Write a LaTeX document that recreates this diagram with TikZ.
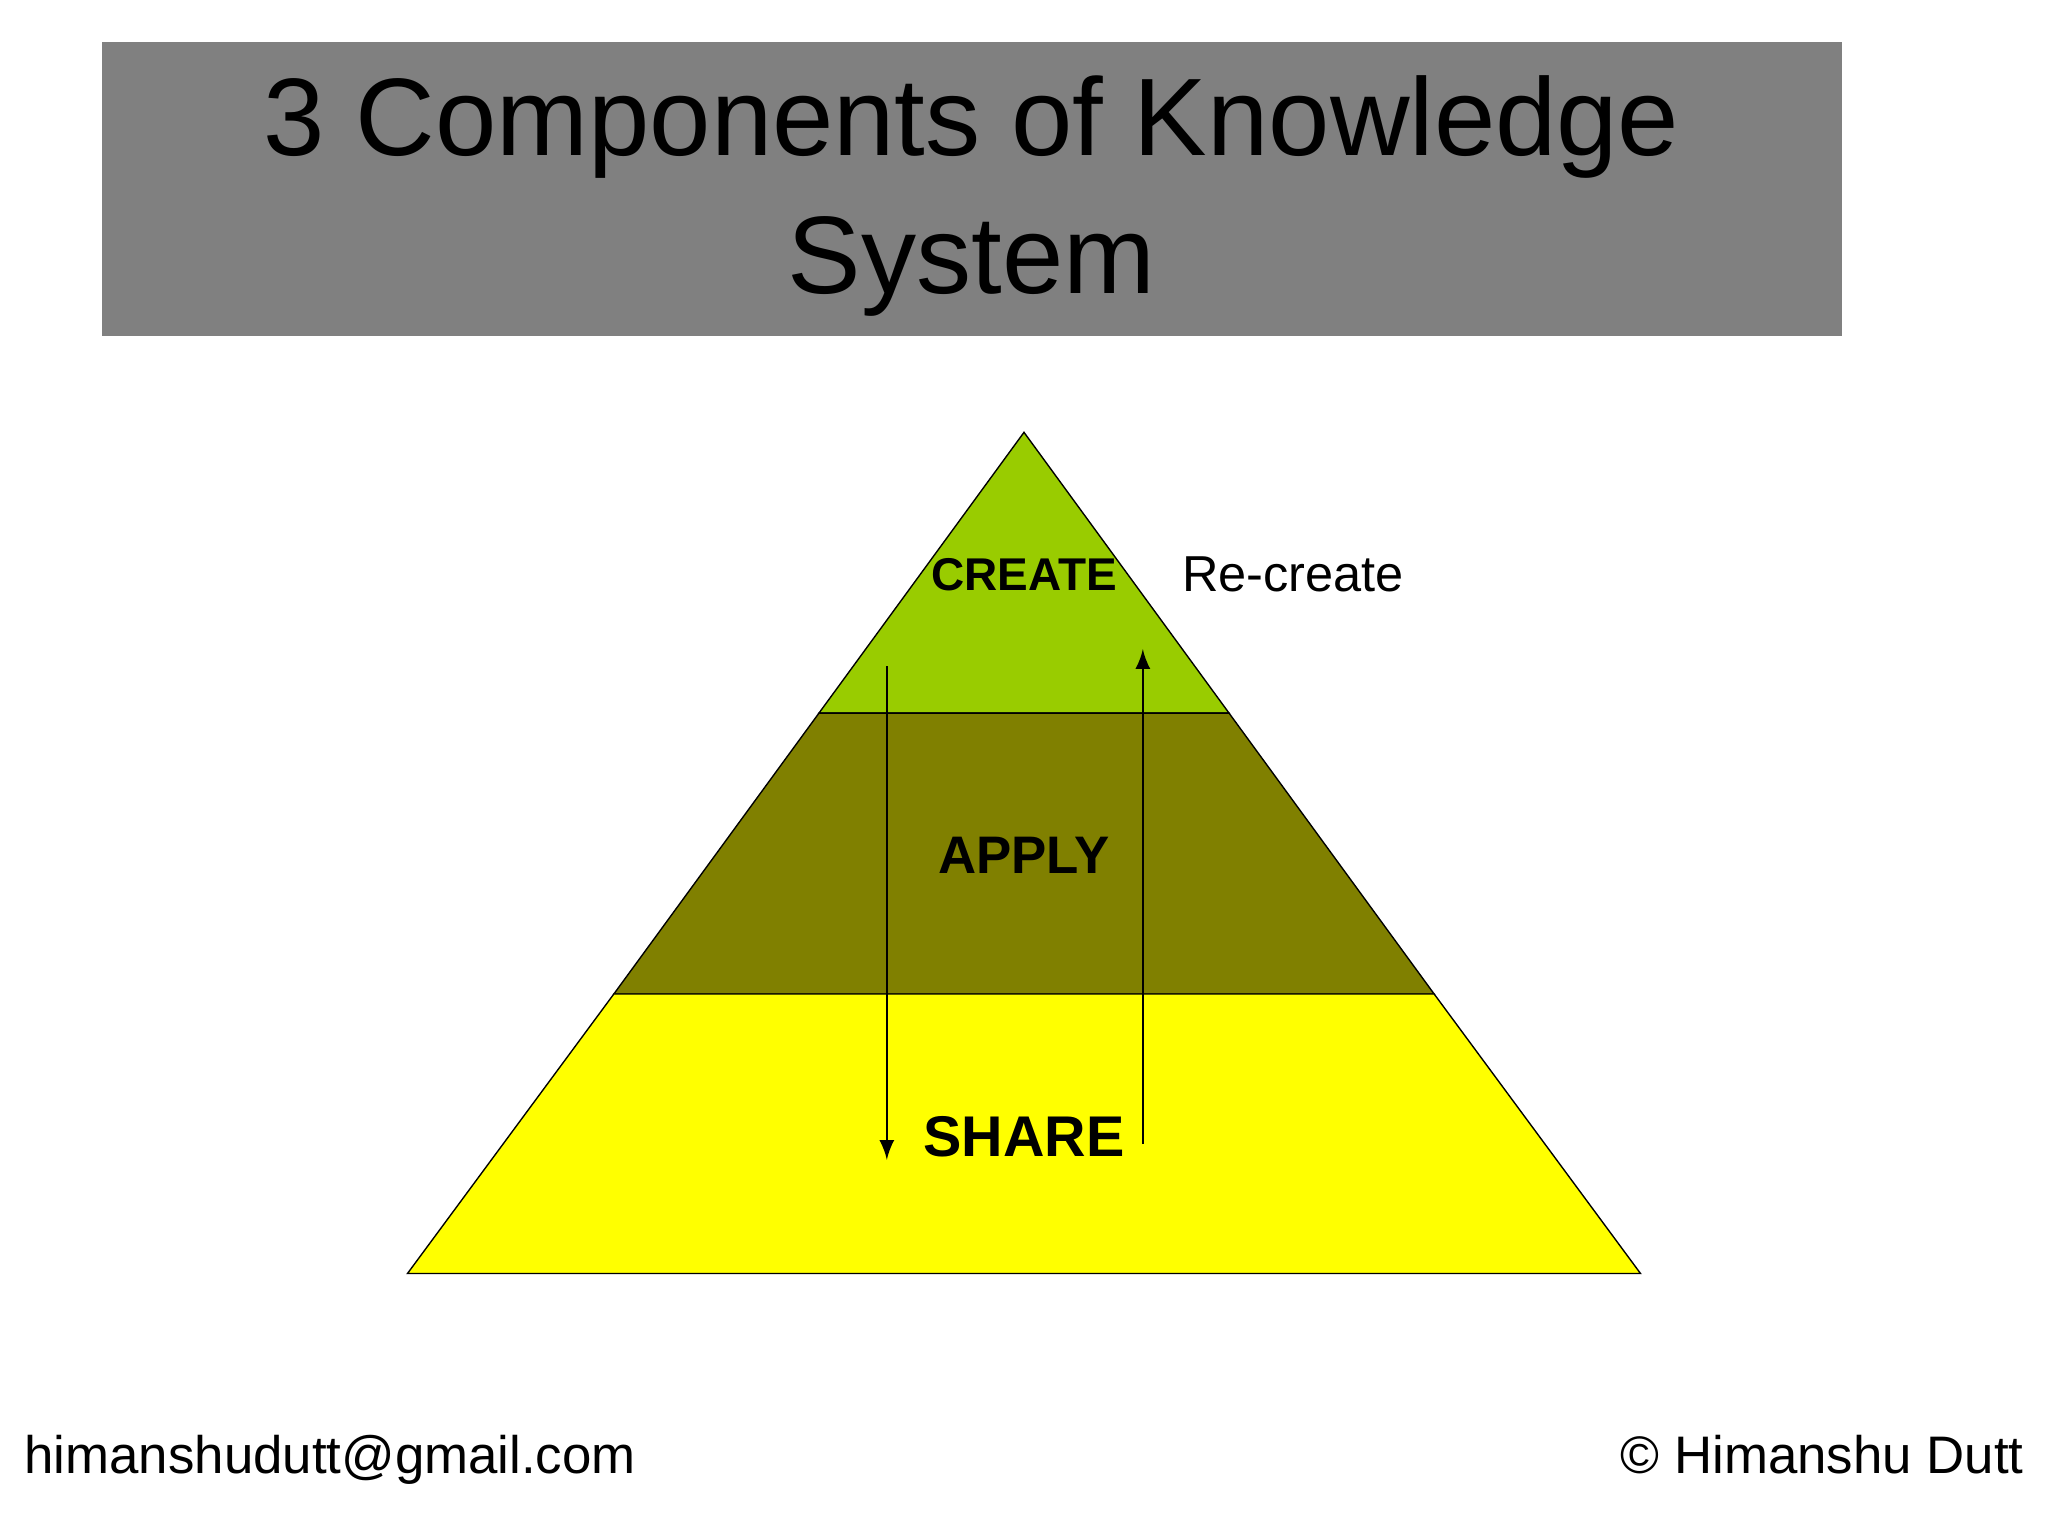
\documentclass[tikz,border=0pt]{standalone}
\usepackage{fontspec}
\setmainfont{Liberation Sans}
\definecolor{topg}{HTML}{99CC00}
\definecolor{midg}{HTML}{808000}
\definecolor{boty}{HTML}{FFFF00}
\begin{document}
\begin{tikzpicture}[x=0.01cm,y=-0.01cm,
  lbl/.style={font=\bfseries, inner sep=0pt},
  arr/.style={-latex, line width=0.5pt}]
\useasboundingbox (0,0) rectangle (1568,1176);
\fill[white] (0,0) rectangle (1568,1176);
\fill[gray] (78,32) rectangle (1410,257);
\node[align=center, font=\fontsize{24}{30}\selectfont] (title) at (744,150) {3 Components of Knowledge\\System};
% pyramid bands
\coordinate (apex) at (784,331);
\coordinate (bl) at (312,975);
\coordinate (br) at (1256,975);
\coordinate (l1) at (627,546); \coordinate (r1) at (941,546);
\coordinate (l2) at (470,761); \coordinate (r2) at (1098,761);
\filldraw[fill=topg, draw=black, line width=0.3pt] (apex) -- (r1) -- (l1) -- cycle;
\filldraw[fill=midg, draw=black, line width=0.3pt] (l1) -- (r1) -- (r2) -- (l2) -- cycle;
\filldraw[fill=boty, draw=black, line width=0.3pt] (l2) -- (r2) -- (br) -- (bl) -- cycle;
\node[lbl, font=\bfseries\fontsize{10}{12}\selectfont] (create) at (784,440) {CREATE};
\node[lbl, font=\bfseries\fontsize{11.5}{14}\selectfont] (apply) at (784,655) {APPLY};
\node[lbl, font=\bfseries\fontsize{12.5}{15}\selectfont] (share) at (784,870) {SHARE};
\node[inner sep=0pt, font=\fontsize{11}{13}\selectfont] (recreate) at (990,440) {Re-create};
\coordinate (d1) at (679,510); \coordinate (d2) at (679,888);
\coordinate (u1) at (875,876); \coordinate (u2) at (875,497);
\draw[arr] (d1) -- (d2);
\draw[arr] (u1) -- (u2);
\node[anchor=base west, inner sep=0pt, font=\fontsize{11.5}{14}\selectfont] (mail) at (18,1128) {himanshudutt@gmail.com};
\node[anchor=base east, inner sep=0pt, font=\fontsize{11.5}{14}\selectfont] (copy) at (1550,1128) {© Himanshu Dutt};
\end{tikzpicture}
\end{document}
